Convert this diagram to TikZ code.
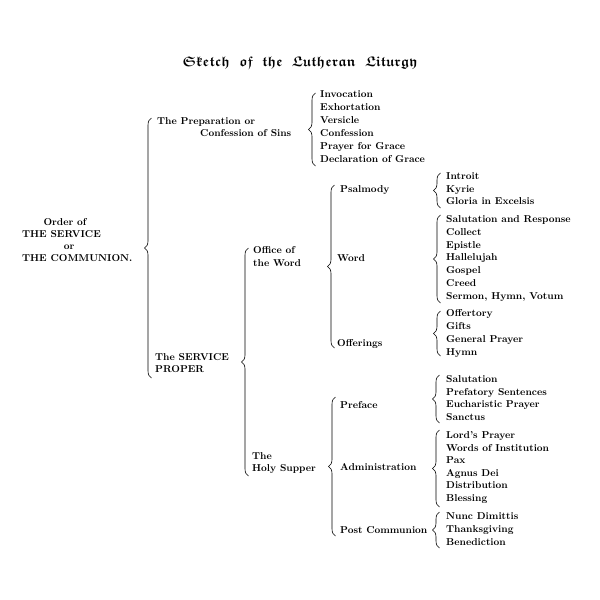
\documentclass[tikz,border=0pt]{standalone}
\usepackage{amssymb,bm}
\usetikzlibrary{decorations.pathreplacing}
\newcommand{\gothic}[1]{$\bm{\mathfrak{#1}}$}
\tikzset{
  item/.style={anchor=west,inner sep=0pt,font=\bfseries,text height=7pt,text depth=2pt},
  curl/.style={decorate,decoration={brace,amplitude=7pt},line width=0.6pt}
}
\begin{document}
\begin{tikzpicture}[x=1pt,y=-1pt]
\path[use as bounding box,fill=white] (0,0) rectangle (600,600);
% title
\node (title) at (300,63) {\fontsize{14}{14}\selectfont\gothic{Sketch\ \ of\ \ the\ \ Lutheran\ \ Liturgy}};
% left block
\node[item,anchor=center] (order1) at (65,223) {Order of};
\node[item] (order2) at (22,235) {THE SERVICE};
\node[item,anchor=center] (order3) at (69,247) {or};
\node[item] (order4) at (22,259) {THE COMMUNION.};
% braces
\foreach \n/\x/\t/\b in {main/151.5/118/378, prep/315.5/93/166, proper/248.5/248/476,
    office/334.5/185/348, supper/335.5/397/536, psalm/440.5/173/208, word/440.5/215/303,
    offer/440.5/311/356, preface/439.5/375/423, admin/439.5/430/507, post/439.5/512/548} {
  \coordinate (\n top) at (\x,\t);
  \coordinate (\n bot) at (\x,\b);
  \draw[curl] (\n bot) -- (\n top);
}
% second column
\node[item] (prepA) at (157,122) {The Preparation or};
\node[item] (prepB) at (200,134) {Confession of Sins};
\node[item] (properA) at (155,358) {The SERVICE};
\node[item] (properB) at (155,370) {PROPER};
% third column
\node[item] (officeA) at (253,251) {Office of};
\node[item] (officeB) at (253,264) {the Word};
\node[item] (supperA) at (252,457) {The};
\node[item] (supperB) at (252,469) {Holy Supper};
% fourth column
\node[item] (psalmody) at (340,190) {Psalmody};
\node[item] (wordpart) at (337,259) {Word};
\node[item] (offerings) at (337,344) {Offerings};
\node[item] (preface) at (340,406) {Preface};
\node[item] (admin) at (340,468) {Administration};
\node[item] (postcomm) at (340,531) {Post Communion};
% lists
\foreach \t [count=\i] in {Invocation,Exhortation,Versicle,Confession,Prayer for Grace,Declaration of Grace}
  \node[item] (prep\i) at (320,{95+13*(\i-1)}) {\t};
\foreach \t [count=\i] in {Introit,Kyrie,Gloria in Excelsis}
  \node[item] (psalm\i) at (446,{177+12.5*(\i-1)}) {\t};
\foreach \t [count=\i] in {Salutation and Response,Collect,Epistle,Hallelujah,Gospel,Creed,{Sermon, Hymn, Votum}}
  \node[item] (word\i) at (446,{220+12.83*(\i-1)}) {\t};
\foreach \t [count=\i] in {Offertory,Gifts,General Prayer,Hymn}
  \node[item] (offer\i) at (446,{314+12.9*(\i-1)}) {\t};
\foreach \t [count=\i] in {Salutation,Prefatory Sentences,Eucharistic Prayer,Sanctus}
  \node[item] (pref\i) at (446,{380+12.7*(\i-1)}) {\t};
\foreach \t [count=\i] in {Lord's Prayer,Words of Institution,Pax,Agnus Dei,Distribution,Blessing}
  \node[item] (adm\i) at (446,{436+12.6*(\i-1)}) {\t};
\foreach \t [count=\i] in {Nunc Dimittis,Thanksgiving,Benediction}
  \node[item] (post\i) at (446,{517+13*(\i-1)}) {\t};
\end{tikzpicture}
\end{document}
